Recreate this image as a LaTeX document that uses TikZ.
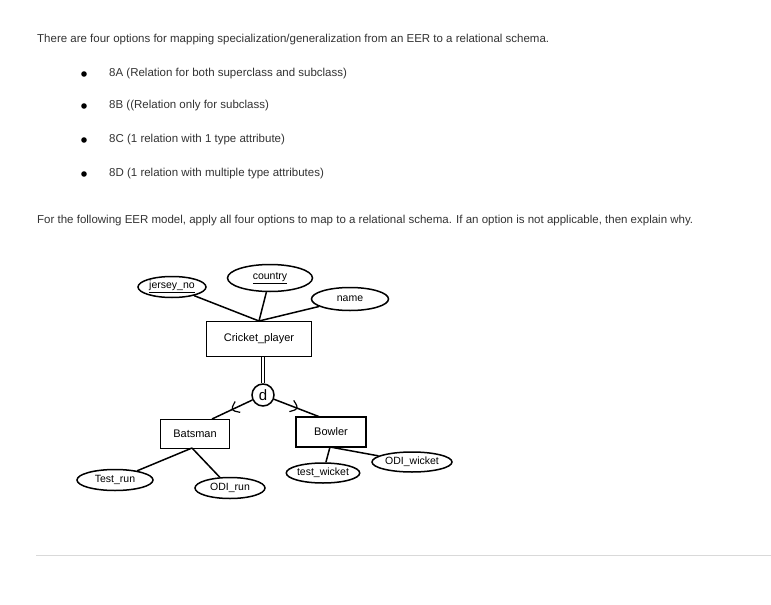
\documentclass[tikz,border=0pt]{standalone}
\usepackage{fontspec}
\setmainfont{Liberation Sans}
\usetikzlibrary{calc,shapes.geometric}
\definecolor{txt}{HTML}{333333}
\begin{document}
\begin{tikzpicture}[x=1pt,y=-1pt,
  every node/.style={text=txt,font=\fontsize{11.5}{13}\selectfont},
  attr/.style={draw,line width=1.5pt,ellipse,minimum width=#1,minimum height=21,inner sep=0pt,text=black,font=\fontsize{10.5}{12}\selectfont},
  ent/.style={draw,line width=1.5pt,rectangle,inner sep=0pt,text=black,font=\fontsize{11}{12}\selectfont},
  ln/.style={line width=1.5pt},
  ptxt/.style={anchor=west,inner sep=0pt}]
\useasboundingbox[fill=white] (0,0) rectangle (771,605);
\node[ptxt] (t1) at (37,40) {There are four options for mapping specialization/generalization from an EER to a relational schema.};
\foreach \y/\s [count=\i] in {74/{8A (Relation for both superclass and subclass)},106/{8B ((Relation only for subclass)},140/{8C (1 relation with 1 type attribute)},174/{8D (1 relation with multiple type attributes)}}{
  \fill[black] (84,\y) circle (2.8);
  \node[ptxt] (b\i) at (109,\y) {\s};}
\node[ptxt] (t2) at (37,221) {For the following EER model, apply all four options to map to a relational schema. If an option is not applicable, then explain why.};
\draw[gray!30,thick] (36,555) -- (771,555);
% ER diagram
\node[ent,minimum width=105,minimum height=35] (cp) at (259,339) {Cricket\_player};
\node[attr=68] (jn) at (172,287) {\underline{jersey\_no}};
\node[attr=85,minimum height=27] (co) at (270,278) {\underline{country}};
\node[attr=77,minimum height=23] (nm) at (350,299) {name};
\coordinate (top) at (259,321);
\draw[ln] (jn) -- (top); \draw[ln] (co) -- (top); \draw[ln] (nm) -- (top);
\node[draw,line width=1.5pt,circle,minimum size=22,inner sep=0pt,text=black,font=\fontsize{15}{16}\selectfont] (d) at (263,395) {d};
\draw[line width=1.2pt,double,double distance=2.2pt] (cp.south -| d) -- (d);
\node[ent,minimum width=69,minimum height=29] (bat) at (195,434) {Batsman};
\node[ent,minimum width=70,minimum height=30] (bow) at (331,432) {Bowler};
\coordinate (bt) at (212,419);
\coordinate (bw) at (320,417);
\draw[ln] (d) -- (bt);
\draw[ln] (d) -- (bw);
% subset symbols
\foreach \e/\n in {bt/p1,bw/p2}{
  \coordinate (\n) at ($(d)!0.55!(\e)$);
  \coordinate (\n a) at ($(\n)!3pt!(d)$);
  \draw[line width=1.2pt] ($(\n a)!6pt!90:(d)$) .. controls ($(\n)!-5pt!(d)$) .. ($(\n a)!6pt!-90:(d)$);
}
\node[attr=76] (tr) at (115,480) {Test\_run};
\node[attr=70] (or) at (230,488) {ODI\_run};
\node[attr=66,minimum height=20] (tw) at (323,473) {test\_wicket};
\node[attr=80,minimum height=20] (ow) at (412,462) {ODI\_wicket};
\coordinate (bb) at (192,448);
\coordinate (wb) at (330,447);
\draw[ln] (bb) -- (tr); \draw[ln] (bb) -- (or);
\draw[ln] (wb) -- (tw); \draw[ln] (wb) -- (ow);
\end{tikzpicture}
\end{document}
